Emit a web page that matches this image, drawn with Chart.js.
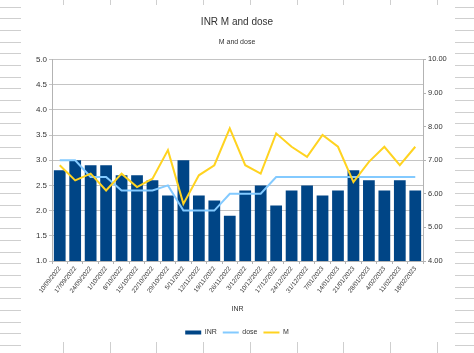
<!DOCTYPE html>
<html>
<head>
<meta charset="utf-8">
<script src="https://cdn.jsdelivr.net/npm/chart.js"></script>
<style>
  html, body { margin: 0; padding: 0; background: #fff; }
  canvas { display: block; }
</style>
</head>
<body>
<canvas id="myChart" width="474" height="353"></canvas>
<script>
const dates = [
  "10/09/2022", "17/09/2022", "24/09/2022", "1/10/2022", "8/10/2022",
  "15/10/2022", "22/10/2022", "29/10/2022", "5/11/2022", "12/11/2022",
  "19/11/2022", "26/11/2022", "3/12/2022", "10/12/2022", "17/12/2022",
  "24/12/2022", "31/12/2022", "7/01/2023", "14/01/2023", "21/01/2023",
  "28/01/2023", "4/02/2023", "11/02/2023", "18/02/2023",
];
const inrValues = [
  2.8, 3.0, 2.9, 2.9, 2.7, 2.7, 2.6, 2.3, 3.0, 2.3, 2.2, 1.9,
  2.4, 2.5, 2.1, 2.4, 2.5, 2.3, 2.4, 2.8, 2.6, 2.4, 2.6, 2.4,
];
const doseValues = [
  7.0, 7.0, 6.5, 6.5, 6.1, 6.1, 6.1, 6.25, 5.5, 5.5, 5.5, 6.0,
  6.0, 6.0, 6.5, 6.5, 6.5, 6.5, 6.5, 6.5, 6.5, 6.5, 6.5, 6.5,
];
const mValues = [
  6.85, 6.4, 6.6, 6.1, 6.6, 6.2, 6.45, 7.3, 5.7, 6.55, 6.85, 7.95,
  6.85, 6.6, 7.8, 7.4, 7.1, 7.75, 7.4, 6.35, 6.95, 7.4, 6.85, 7.4,
];
const inrAxis = { min: 1, max: 5, step: 0.5 };
const mAxis = { min: 4, max: 10, step: 1 };

Chart.defaults.font.family = "'Liberation Sans', Arial, sans-serif";
Chart.defaults.color = "#333";

// spreadsheet cells peeking out around the chart object
const sheetGrid = {
  id: "sheetGrid",
  beforeDraw(chart) {
    const ctx = chart.ctx;
    ctx.save();
    ctx.strokeStyle = "#cfcfcf";
    ctx.lineWidth = 1;
    ctx.beginPath();
    for (let y = 6.7; y < 353; y += 11.67) {
      const yy = Math.round(y) + 0.5;
      ctx.moveTo(0, yy); ctx.lineTo(21, yy);
      ctx.moveTo(455, yy); ctx.lineTo(474, yy);
    }
    for (let x = 63; x < 445; x += 46.7) {
      const xx = Math.round(x) + 0.5;
      ctx.moveTo(xx, 0); ctx.lineTo(xx, 5);
      ctx.moveTo(xx, 342); ctx.lineTo(xx, 353);
    }
    ctx.stroke();
    ctx.restore();
  },
};

new Chart("myChart", {
  data: {
    labels: dates,
    datasets: [
      {
        type: "bar",
        label: "INR",
        data: inrValues,
        yAxisID: "y",
        backgroundColor: "#004586",
        categoryPercentage: 1,
        barPercentage: 0.76,
        pointStyle: "rect",
        order: 3,
      },
      {
        type: "line",
        label: "dose",
        data: doseValues,
        yAxisID: "y1",
        borderColor: "#83caff",
        backgroundColor: "#83caff",
        borderWidth: 2,
        pointRadius: 0,
        pointStyle: "line",
        pointBorderColor: "#83caff",
        pointBorderWidth: 2,
        tension: 0,
        order: 2,
      },
      {
        type: "line",
        label: "M",
        data: mValues,
        yAxisID: "y1",
        borderColor: "#ffd320",
        backgroundColor: "#ffd320",
        borderWidth: 2,
        pointRadius: 0,
        pointStyle: "line",
        pointBorderColor: "#ffd320",
        pointBorderWidth: 2,
        tension: 0,
        order: 1,
      },
    ],
  },
  options: {
    responsive: false,
    animation: false,
    layout: { padding: { top: 0, bottom: 7, left: 0, right: 0 } },
    plugins: {
      title: {
        display: true,
        text: "INR M and dose",
        font: { size: 10, weight: "normal" },
        color: "#333",
        padding: { top: 16, bottom: 4 },
      },
      subtitle: {
        display: true,
        text: "M and dose",
        font: { size: 7 },
        color: "#333",
        padding: { top: 6, bottom: 13 },
      },
      legend: {
        position: "bottom",
        labels: {
          usePointStyle: true,
          pointStyleWidth: 16,
          boxWidth: 16,
          boxHeight: 4,
          padding: 6,
          font: { size: 7 },
          color: "#333",
          sort: (a, b) => a.datasetIndex - b.datasetIndex,
        },
      },
      tooltip: { enabled: false },
    },
    scales: {
      x: {
        grid: { drawOnChartArea: false, tickLength: 3, color: "#b3b3b3" },
        border: { color: "#b3b3b3" },
        ticks: {
          minRotation: 52,
          maxRotation: 52,
          autoSkip: false,
          padding: 1,
          font: { size: 6.3 },
          color: "#333",
        },
        title: {
          display: true,
          text: "INR",
          font: { size: 7 },
          color: "#333",
          padding: { top: 0, bottom: 10 },
        },
        afterFit(scale) { scale.height = 62; },
      },
      y: {
        position: "left",
        min: inrAxis.min,
        max: inrAxis.max,
        ticks: {
          stepSize: inrAxis.step,
          callback: (v) => v.toFixed(1),
          font: { size: 8 },
          color: "#333",
          padding: 2,
        },
        grid: { color: "#c4c4c4", tickLength: 3 },
        border: { color: "#b3b3b3" },
        afterFit(scale) { scale.width = 52; },
      },
      y1: {
        position: "right",
        min: mAxis.min,
        max: mAxis.max,
        ticks: {
          stepSize: mAxis.step,
          callback: (v) => v.toFixed(2),
          font: { size: 7.5 },
          color: "#333",
          padding: 2,
        },
        grid: { drawOnChartArea: false, tickLength: 3, color: "#b3b3b3" },
        border: { color: "#b3b3b3" },
        afterFit(scale) { scale.width = 51; },
      },
    },
  },
  plugins: [sheetGrid],
});
</script>
</body>
</html>
